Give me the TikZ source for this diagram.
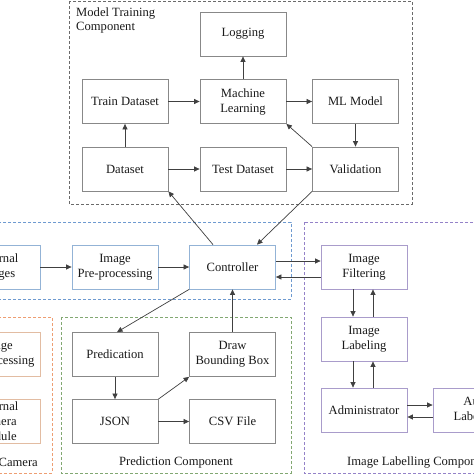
\documentclass[tikz,border=0pt]{standalone}
\usepackage{fontspec}
\setmainfont{Liberation Serif}
\usetikzlibrary{arrows.meta}
\definecolor{boxgray}{HTML}{888888}
\definecolor{framegray}{HTML}{6A6A6A}
\definecolor{bluebox}{HTML}{93B3D6}
\definecolor{blueframe}{HTML}{6E9AD0}
\definecolor{purplebox}{HTML}{A99CCB}
\definecolor{purpleframe}{HTML}{9482C8}
\definecolor{greenframe}{HTML}{82A872}
\definecolor{orangebox}{HTML}{E2BCA2}
\definecolor{orangeframe}{HTML}{EE9E72}
\definecolor{txt}{HTML}{1A1A1A}
\tikzset{
  stepbox/.style={draw=boxgray, line width=0.8pt, minimum width=86pt, minimum height=44pt,
    align=center, inner sep=1pt, text=txt, font=\fontsize{12.6}{15}\selectfont},
  bluestep/.style={stepbox, draw=bluebox},
  purplestep/.style={stepbox, draw=purplebox},
  orangestep/.style={stepbox, draw=orangebox},
  frame/.style={densely dashed, line width=0.8pt},
  lbl/.style={text=txt, font=\fontsize{12.6}{14}\selectfont, inner sep=0pt},
  arr/.style={-{Triangle[length=5.5pt,width=5pt]}, line width=0.7pt, draw=black!75},
}
\begin{document}
\begin{tikzpicture}[x=1pt,y=-1pt]
\clip (0,0) rectangle (474,474);
\fill[white] (0,0) rectangle (474,474);
% frames
\draw[frame, draw=framegray] (69,1) rectangle (412,204);
\draw[frame, draw=blueframe] (-10,222) rectangle (291,299);
\draw[frame, draw=purpleframe] (304,222) rectangle (500,473);
\draw[frame, draw=orangeframe] (-10,317) rectangle (52,473);
\draw[frame, draw=greenframe] (61,317) rectangle (291,473);
% frame labels
\node[lbl, anchor=north west, align=left] (mtlbl) at (76,8) {Model Training\\Component};
\node[lbl] (predlbl) at (176,462) {Prediction Component};
\node[lbl, anchor=west] (illbl) at (347,462) {Image Labelling Component};
\node[lbl, anchor=east] (camlbl) at (38,462) {Camera};
% model training
\node[stepbox] (log) at (243,34) {Logging};
\node[stepbox] (train) at (125,101.5) {Train Dataset};
\node[stepbox] (ml) at (243,101.5) {Machine\\Learning};
\node[stepbox] (mlm) at (355.5,101.5) {ML Model};
\node[stepbox] (ds) at (125,169) {Dataset};
\node[stepbox] (test) at (243,169) {Test Dataset};
\node[stepbox] (val) at (355.5,169) {Validation};
% blue
\node[bluestep] (ext) at (-3,267) {External\\Images};
\node[bluestep] (pre) at (115,267) {Image\\Pre-processing};
\node[bluestep] (ctrl) at (232.5,267) {Controller};
% purple
\node[purplestep] (filt) at (364,267) {Image\\Filtering};
\node[purplestep] (lab) at (364,339) {Image\\Labeling};
\node[purplestep] (adm) at (364,410) {Administrator};
\node[purplestep] (auto) at (476,410) {Auto\\Labeling};
% orange
\node[orangestep] (oimg) at (-3,354.5) {Image\\Pre-processing};
\node[orangestep] (ocam) at (-3,421.5) {External\\Camera\\Module};
% green
\node[stepbox] (predn) at (115,354.5) {Predication};
\node[stepbox] (dbb) at (232.5,354.5) {Draw\\Bounding Box};
\node[stepbox] (json) at (115,421.5) {JSON};
\node[stepbox] (csv) at (232.5,421.5) {CSV File};
% arrows model training
\draw[arr] (ds.north) -- (train.south);
\draw[arr] (train.east) -- (ml.west);
\draw[arr] (ml.north) -- (log.south);
\draw[arr] (ml.east) -- (mlm.west);
\draw[arr] (mlm.south) -- (val.north);
\draw[arr] (ds.east) -- (test.west);
\draw[arr] (test.east) -- (val.west);
\draw[arr] (val.north west) -- (ml.south east);
\draw[arr] ([xshift=-19.5pt]ctrl.north) -- (ds.south east);
\draw[arr] (val.south west) -- ([xshift=24.5pt]ctrl.north);
% blue
\draw[arr] (ext.east) -- (pre.west);
\draw[arr] (pre.east) -- (ctrl.west);
\draw[arr] ([yshift=6pt]ctrl.east) -- ([yshift=6pt]filt.west);
\draw[arr] ([yshift=-10pt]filt.west) -- ([yshift=-10pt]ctrl.east);
% purple
\draw[arr] ([xshift=-11pt]filt.south) -- ([xshift=-11pt]lab.north);
\draw[arr] ([xshift=9pt]lab.north) -- ([xshift=9pt]filt.south);
\draw[arr] ([xshift=-11pt]lab.south) -- ([xshift=-11pt]adm.north);
\draw[arr] ([xshift=9pt]adm.north) -- ([xshift=9pt]lab.south);
\draw[arr] ([yshift=5pt]adm.east) -- ([yshift=5pt]auto.west);
\draw[arr] ([yshift=-7pt]auto.west) -- ([yshift=-7pt]adm.east);
% green
\draw[arr] (ctrl.south west) -- ([xshift=2pt]predn.north);
\draw[arr] (predn.south) -- (json.north);
\draw[arr] (json.north east) -- (dbb.south west);
\draw[arr] (json.east) -- (csv.west);
\draw[arr] (dbb.north) -- (ctrl.south);
\end{tikzpicture}
\end{document}
